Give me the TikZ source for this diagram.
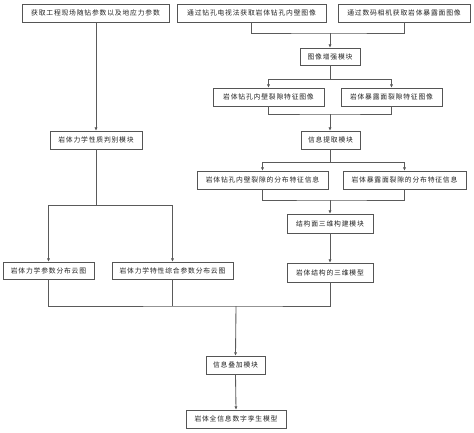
\documentclass[tikz,border=0pt]{standalone}
\usepackage{fontspec}
\usetikzlibrary{arrows.meta}
\newfontfamily\cjk{Noto Sans CJK SC}[LetterSpace=12]
\definecolor{boxc}{HTML}{555555}
\definecolor{linec}{HTML}{5A5A5A}
\definecolor{txtc}{HTML}{222222}
\begin{document}
\begin{tikzpicture}[x=1pt,y=-1pt,
  box/.style={draw=boxc,line width=0.85pt,inner sep=0pt,minimum height=18pt,
    font=\cjk\fontsize{6.8}{8}\selectfont,text=txtc,anchor=center},
  ln/.style={draw=linec,line width=0.85pt},
  arr/.style={ln,-{Latex[length=3.2pt,width=3.2pt]}}]
\useasboundingbox[fill=white] (0,0) rectangle (474,432);
\node[box,minimum width=147pt] (A) at (95.5,13) {获取工程现场随钻参数以及地应力参数};
\node[box,minimum width=149pt] (B) at (251.5,13) {通过钻孔电视法获取岩体钻孔内壁图像};
\node[box,minimum width=132pt] (C) at (404,13) {通过数码相机获取岩体暴露面图像};
\node[box,minimum width=60pt,minimum height=17pt] (D) at (330,56.5) {图像增强模块};
\node[box,minimum width=111pt] (E) at (268.5,97) {岩体钻孔内壁裂隙特征图像};
\node[box,minimum width=101pt] (F) at (391.5,97) {岩体暴露面裂隙特征图像};
\node[box,minimum width=59pt] (G) at (330.5,140) {信息提取模块};
\node[box,minimum width=92pt] (H) at (96,140) {岩体力学性质判别模块};
\node[box,minimum width=131pt] (I) at (262.5,180) {岩体钻孔内壁裂隙的分布特征信息};
\node[box,minimum width=123pt] (J) at (404.5,180) {岩体暴露面裂隙的分布特征信息};
\node[box,minimum width=86pt,minimum height=19pt] (K) at (330,223.5) {结构面三维构建模块};
\node[box,minimum width=86pt,minimum height=19pt] (L) at (330,272.5) {岩体结构的三维模型};
\node[box,minimum width=91pt,minimum height=17pt] (M) at (48.5,270.5) {岩体力学参数分布云图};
\node[box,minimum width=121pt,minimum height=17pt] (N) at (172.5,270.5) {岩体力学特性综合参数分布云图};
\node[box,minimum width=59pt] (O) at (235.5,365) {信息叠加模块};
\node[box,minimum width=100pt] (P) at (236,419) {岩体全信息数字孪生模型};
% coordinates of junctions
\coordinate (bc) at (330,33);
\coordinate (de) at (330,79);
\coordinate (ef) at (330,114);
\coordinate (gi) at (330,162);
\coordinate (ij) at (330,200);
\coordinate (hm) at (96,205);
\coordinate (mn) at (236,306);
% A -> H
\draw[arr] (A.south -| H.north) -- (H.north);
% B,C -> D
\draw[ln] (B.south) |- (bc) -| (C.south);
\draw[arr] (bc) -- (D.north);
% D -> E,F
\draw[ln] (D.south) -- (de);
\draw[arr] (de) -| (E.north);
\draw[arr] (de) -| (F.north);
% E,F -> G
\draw[ln] (E.south) |- (ef) -| (F.south);
\draw[arr] (ef) -- (G.north -| ef);
% G -> I,J
\draw[ln] (G.south -| gi) -- (gi);
\draw[arr] (gi) -| (I.north);
\draw[arr] (gi) -| (J.north);
% I,J -> K
\draw[ln] (I.south) |- (ij) -| (J.south);
\draw[arr] (ij) -- (K.north);
% K -> L
\draw[arr] (K.south) -- (L.north);
% H -> M,N
\draw[ln] (H.south) -- (hm);
\draw[arr] (hm) -| (M.north);
\draw[arr] (hm) -| (N.north);
% M,N,L -> O
\draw[ln] (M.south) |- (mn) -| (L.south);
\draw[ln] (N.south) -- (N.south |- mn);
\draw[arr] (mn) -- (O.north);
% O -> P
\draw[arr] (O.south) -- (P.north);
\end{tikzpicture}
\end{document}
